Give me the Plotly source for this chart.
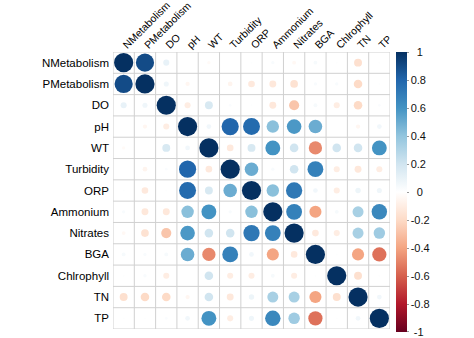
import numpy as np
import plotly.graph_objects as go

names = ["NMetabolism", "PMetabolism", "DO", "pH", "WT", "Turbidity", "ORP",
         "Ammonium", "Nitrates", "BGA", "Chlrophyll", "TN", "TP"]

corr = [
    [1, 0.9, 0.1, 0.0, -0.03, 0.0, 0.01, 0.03, -0.04, 0.04, 0.01, -0.17, 0.01],
    [0.9, 1, 0.07, -0.05, 0.0, -0.06, -0.12, -0.13, -0.16, 0.03, 0.03, -0.2, 0.01],
    [0.1, 0.07, 1, -0.1, 0.17, 0.02, 0.01, -0.13, -0.28, 0.04, -0.1, -0.2, 0.02],
    [0.0, -0.05, -0.1, 1, 0.06, 0.8, 0.78, 0.42, 0.58, 0.5, 0.0, -0.05, 0.06],
    [-0.03, 0.0, 0.17, 0.06, 1, -0.12, 0.17, 0.6, 0.2, -0.48, 0.2, 0.2, 0.6],
    [0.0, -0.06, 0.02, 0.8, -0.12, 1, 0.5, 0.03, 0.2, 0.68, -0.1, -0.13, -0.1],
    [0.01, -0.12, 0.01, 0.78, 0.17, 0.5, 1, 0.42, 0.72, 0.06, -0.1, 0.08, 0.07],
    [0.03, -0.13, -0.13, 0.42, 0.6, 0.03, 0.42, 1, 0.68, -0.4, 0.04, 0.33, 0.65],
    [-0.04, -0.16, -0.28, 0.58, 0.2, 0.2, 0.72, 0.68, 1, -0.12, -0.1, 0.33, 0.36],
    [0.04, 0.03, 0.04, 0.5, -0.48, 0.68, 0.06, -0.4, -0.12, 1, 0.01, -0.4, -0.55],
    [0.01, 0.03, -0.1, 0.0, 0.2, -0.1, -0.1, 0.04, -0.1, 0.01, 1, -0.17, 0.01],
    [-0.17, -0.2, -0.2, -0.05, 0.2, -0.13, 0.08, 0.33, 0.33, -0.4, -0.17, 1, 0.06],
    [0.01, 0.01, 0.02, 0.06, 0.6, -0.1, 0.07, 0.65, 0.36, -0.55, 0.01, 0.06, 1],
]

cbar_vals = [-0.999, -0.8, -0.6, -0.4, -0.2, 0, 0.2, 0.4, 0.6, 0.8, 0.999]
cbar_text = ["\u00a0-1", "-0.8", "-0.6", "-0.4", "-0.2", "\u00a0\u00a00",
             "0.2", "0.4", "0.6", "0.8", "\u00a0\u00a01"]

rdbu = ["#67001F", "#B2182B", "#D6604D", "#F4A582", "#FDDBC7", "#FFFFFF",
        "#D1E5F0", "#92C5DE", "#4393C3", "#2166AC", "#053061"]
colorscale = [[i / (len(rdbu) - 1), c] for i, c in enumerate(rdbu)]

W, H = 474, 338
ML, MR, MT, MB = 113, 84, 52, 9
n = len(names)
cell = (W - ML - MR) / n

M = np.array(corr, dtype=float)
rows, cols = np.meshgrid(np.arange(n), np.arange(n), indexing="ij")
xs = cols.ravel()
ys = rows.ravel()
vals = M.ravel()
sizes = 0.9 * np.sqrt(np.abs(vals)) * cell

font = "Liberation Sans, Arial, sans-serif"

fig = go.Figure()
fig.add_trace(go.Scatter(
    x=xs, y=ys, mode="markers",
    marker=dict(
        size=sizes, color=vals, colorscale=colorscale, cmin=-1, cmax=1,
        opacity=1, line=dict(width=0),
        colorbar=dict(
            thickness=11, lenmode="pixels", len=280, y=1, yanchor="top",
            x=1 + 5.5 / (W - ML - MR), xanchor="left", xpad=0, ypad=0,
            outlinewidth=0, tickmode="array", tickvals=cbar_vals,
            ticktext=cbar_text, ticks="outside", ticklen=2,
            tickcolor="#999999", tickfont=dict(family=font, size=11, color="#111111"),
        ),
    ),
    hoverinfo="skip", showlegend=False,
))

shapes = []
for k in range(n + 1):
    p = k - 0.5
    shapes.append(dict(type="line", x0=p, x1=p, y0=-0.5, y1=n - 0.5,
                       line=dict(color="#D0D0D0", width=1), layer="below"))
    shapes.append(dict(type="line", x0=-0.5, x1=n - 0.5, y0=p, y1=p,
                       line=dict(color="#D0D0D0", width=1), layer="below"))

fig.update_layout(
    width=W, height=H,
    margin=dict(l=ML, r=MR, t=MT, b=MB, autoexpand=False),
    paper_bgcolor="white", plot_bgcolor="white",
    shapes=shapes,
    xaxis=dict(range=[-0.5, n - 0.5], side="top", tickmode="array",
               tickvals=list(range(n)), ticktext=names, tickangle=-45,
               showgrid=False, zeroline=False, ticks="", showline=False,
               automargin=False, ticklabelstandoff=-2,
               tickfont=dict(family=font, size=10.5, color="#000000"),
               fixedrange=True),
    yaxis=dict(range=[n - 0.5, -0.5], tickmode="array",
               tickvals=list(range(n)), ticktext=names,
               showgrid=False, zeroline=False, ticks="", showline=False,
               automargin=False, ticklabelstandoff=3,
               tickfont=dict(family=font, size=11.5, color="#000000"),
               fixedrange=True),
)

fig.write_html("out.html")
